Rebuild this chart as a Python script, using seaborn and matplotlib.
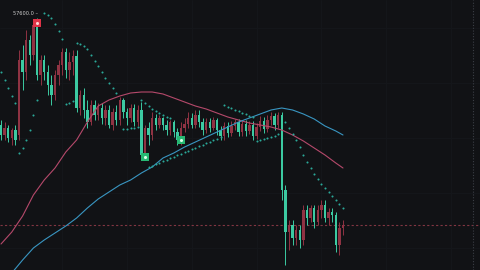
import numpy as np
import matplotlib
matplotlib.use("Agg")
import matplotlib.pyplot as plt
import seaborn as sns

# ---------------- data ----------------
opens = [56530, 56430, 56500, 56400, 56480, 56430, 57180, 57060, 57380, 57230,
         57530, 57030, 57180, 57060, 56930, 56830, 57030, 57130, 57260, 57080,
         57160, 57220, 56700, 56830, 56680, 56560, 56730, 56630, 56700, 56600,
         56680, 56530, 56660, 56580, 56780, 56660, 56600, 56700, 56560, 56680,
         56230, 56500, 56430, 56600, 56530, 56600, 56530, 56480, 56560, 56460,
         56380, 56500, 56540, 56600, 56530, 56630, 56560, 56480, 56560, 56500,
         56580, 56480, 56420, 56520, 56450, 56520, 56560, 56460, 56540, 56470,
         56530, 56420, 56510, 56570, 56490, 56580, 56620, 56530, 56630, 55880,
         55460, 55530, 55400, 55480, 55380, 55680, 55600, 55700, 55560, 55680,
         55730, 55600, 55660, 55630, 55330, 55500]
closes = [56430, 56500, 56400, 56480, 56380, 57180, 57060, 57380, 57230, 57530,
          57030, 57180, 57060, 56930, 56830, 57030, 57130, 57260, 57080, 57160,
          57220, 56700, 56830, 56680, 56560, 56730, 56630, 56700, 56600, 56680,
          56530, 56660, 56580, 56780, 56660, 56600, 56700, 56560, 56680, 56230,
          56500, 56430, 56600, 56530, 56600, 56530, 56480, 56560, 56460, 56380,
          56500, 56540, 56600, 56530, 56630, 56560, 56480, 56560, 56500, 56580,
          56480, 56420, 56520, 56450, 56520, 56560, 56460, 56540, 56470, 56530,
          56420, 56510, 56570, 56490, 56580, 56620, 56530, 56630, 55880, 55460,
          55530, 55400, 55480, 55380, 55680, 55600, 55700, 55560, 55680, 55730,
          55600, 55660, 55630, 55330, 55500, 55530]
highs = [56580, 56560, 56530, 56500, 56530, 57280, 57330, 57480, 57430, 57580,
         57600, 57230, 57230, 57130, 57030, 57080, 57180, 57300, 57300, 57260,
         57280, 57280, 56880, 56900, 56780, 56780, 56780, 56750, 56750, 56730,
         56730, 56700, 56730, 56810, 56800, 56700, 56740, 56740, 56730, 56760,
         56530, 56560, 56660, 56640, 56630, 56610, 56580, 56580, 56580, 56500,
         56560, 56600, 56660, 56650, 56680, 56680, 56600, 56600, 56600, 56610,
         56600, 56520, 56560, 56560, 56570, 56590, 56590, 56580, 56580, 56570,
         56570, 56550, 56620, 56610, 56630, 56660, 56650, 56660, 56660, 55930,
         55580, 55580, 55530, 55530, 55730, 55730, 55730, 55730, 55730, 55780,
         55780, 55700, 55700, 55660, 55560, 55580]
lows = [56380, 56380, 56360, 56330, 56330, 56380, 56880, 56980, 57130, 57180,
        56980, 56930, 56980, 56830, 56730, 56780, 56930, 57030, 57000, 56980,
        57030, 56660, 56630, 56600, 56500, 56530, 56580, 56580, 56540, 56530,
        56500, 56480, 56530, 56530, 56600, 56530, 56560, 56520, 56520, 56180,
        56180, 56330, 56380, 56480, 56500, 56480, 56430, 56430, 56410, 56330,
        56330, 56460, 56500, 56500, 56500, 56510, 56430, 56450, 56460, 56480,
        56430, 56380, 56380, 56410, 56420, 56480, 56420, 56420, 56420, 56440,
        56380, 56390, 56470, 56450, 56460, 56530, 56480, 56500, 55780, 55130,
        55280, 55330, 55330, 55300, 55330, 55530, 55560, 55500, 55530, 55600,
        55560, 55530, 55560, 55260, 55230, 55430]

ma_slow_idx = [0, 3, 6, 9, 12, 15, 18, 21, 24, 27, 30, 33, 36, 39, 42, 45, 48,
               51, 54, 57, 60, 63, 66, 69, 72, 75, 78, 81, 84, 87, 90, 93, 95]
ma_slow = [55340, 55460, 55620, 55830, 55980, 56100, 56260, 56380, 56560, 56720,
           56780, 56820, 56850, 56860, 56860, 56840, 56800, 56760, 56720, 56690,
           56650, 56610, 56580, 56550, 56530, 56510, 56480, 56430, 56370, 56300,
           56230, 56150, 56100]

ma_long_idx = [3, 6, 9, 12, 15, 18, 21, 24, 27, 30, 33, 36, 39, 42, 45, 48, 51,
               54, 57, 60, 63, 66, 69, 72, 75, 78, 81, 84, 87, 90, 93, 95]
ma_long = [55050, 55180, 55300, 55380, 55450, 55520, 55600, 55700, 55790, 55860,
           55930, 55980, 56050, 56110, 56200, 56250, 56310, 56360, 56410, 56460,
           56510, 56560, 56600, 56640, 56680, 56700, 56680, 56640, 56590, 56520,
           56470, 56430]

sar_idx = ([0, 1, 2, 3, 4] + [5, 6, 7, 8, 9, 10] + [12, 13, 14, 15, 16, 17]
           + [18, 19, 20] + list(range(21, 33)) + [34, 35, 36, 37, 38]
           + list(range(39, 48)) + list(range(41, 62)) + list(range(62, 71))
           + list(range(71, 78)) + list(range(79, 96)))
sar_val = ([57060, 56980, 56900, 56820, 56750]
           + [56250, 56300, 56380, 56480, 56630, 56780]
           + [57650, 57630, 57600, 57540, 57470, 57390]
           + [56740, 56750, 56770]
           + [57350, 57340, 57320, 57290, 57230, 57170, 57120, 57060, 57000,
              56950, 56900, 56850]
           + [56490, 56495, 56500, 56505, 56510]
           + [56780, 56750, 56720, 56690, 56670, 56650, 56630, 56610, 56600]
           + [56110, 56125, 56140, 56155, 56170, 56185, 56200, 56215, 56230,
              56245, 56260, 56275, 56290, 56305, 56320, 56335, 56350, 56365,
              56380, 56395, 56410]
           + [56730, 56715, 56700, 56685, 56670, 56655, 56640, 56625, 56610]
           + [56370, 56380, 56390, 56400, 56410, 56420, 56440]
           + [56560, 56500, 56440, 56380, 56310, 56230, 56160, 56100, 56040,
              55990, 55940, 55900, 55860, 55820, 55780, 55740, 55700])

sell_idx = [10]
sell_val = [57550]
buy_idx = [40, 50]
buy_val = [56210, 56380]

peak_label = "57600.0"
peak_price = 57600
last_price = 55530

# ---------------- drawing ----------------
sns.set_theme(style="dark")
plt.rcParams["font.family"] = ["DejaVu Sans"]

BG = "#111215"
UP = "#8f3343"      # rising candles (red)
DOWN = "#3ccaa2"    # falling candles (teal)
SAR_C = "#2aa898"
PINK = "#b5496b"
BLUE = "#3996c2"

fig = plt.figure(figsize=(4.8, 2.7), dpi=100)
fig.patch.set_facecolor(BG)
ax = fig.add_axes([0, 0, 1, 1])
ax.set_facecolor(BG)

# faint grid
for gx in [17, 35, 53, 71, 89, 107, 125]:
    ax.axvline(gx, color="#15171b", lw=0.6, zorder=0)
for gy in [55300, 55850, 56400, 56950, 57500]:
    ax.axhline(gy, color="#15171b", lw=0.6, zorder=0)

idx = np.arange(len(opens))
o = np.array(opens, float)
c = np.array(closes, float)
h = np.array(highs, float)
l = np.array(lows, float)
up = c >= o
cols = np.where(up, UP, DOWN)

ax.vlines(idx, l, h, colors=cols, lw=0.7, zorder=2)
body = np.maximum(np.abs(c - o), 10)
ax.bar(idx, body, bottom=np.minimum(o, c), width=0.7, color=cols,
       linewidth=0, zorder=3)

sns.lineplot(x=ma_slow_idx, y=ma_slow, ax=ax, color=PINK, lw=0.8, zorder=4)
sns.lineplot(x=ma_long_idx, y=ma_long, ax=ax, color=BLUE, lw=0.8, zorder=4)
sns.scatterplot(x=sar_idx, y=sar_val, ax=ax, s=2.2, color=SAR_C,
                linewidth=0, zorder=5)

# signal markers
sns.scatterplot(x=sell_idx, y=sell_val, ax=ax, marker="s", s=38,
                color="#e03347", linewidth=0, zorder=6)
sns.scatterplot(x=sell_idx, y=sell_val, ax=ax, marker="o", s=5,
                color="#ffd6d6", linewidth=0, zorder=7)
sns.scatterplot(x=buy_idx, y=buy_val, ax=ax, marker="s", s=32,
                color="#27b873", linewidth=0, zorder=6)
sns.scatterplot(x=buy_idx, y=buy_val, ax=ax, marker="o", s=5,
                color="#d8ffe8", linewidth=0, zorder=7)

# current price line and right axis separator
ax.axhline(last_price, color="#813642", lw=0.8, ls=(0, (2, 2)), zorder=1)
ax.axvline(131.1, color="#3b3e45", lw=0.8, ls=(0, (1, 1.5)), zorder=1)

# peak label
ax.text(3.3, peak_price + 50, peak_label + " \u2013", color="#cfcfcf",
        fontsize=3.6, ha="left", va="center", zorder=8)

ax.set_xlim(-0.28, 133.06)
ax.set_ylim(55080, 57780)
ax.set_xticks([])
ax.set_yticks([])
ax.set_xlabel("")
ax.set_ylabel("")
for s in ax.spines.values():
    s.set_visible(False)
if ax.get_legend() is not None:
    ax.get_legend().remove()

fig.savefig("out.png", dpi=100, facecolor=BG)
